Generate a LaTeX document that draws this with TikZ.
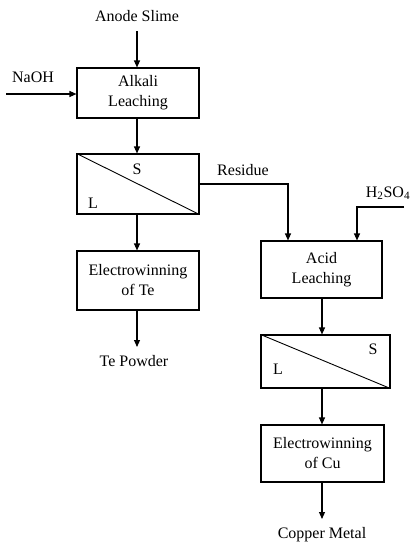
\documentclass[tikz,border=0pt]{standalone}
\usepackage{fontspec}
\setmainfont{Liberation Serif}
\usetikzlibrary{arrows.meta}
\begin{document}
\begin{tikzpicture}[x=1pt,y=-1pt,
  every node/.style={font=\fontsize{16}{20}\selectfont},
  procbox/.style={draw,line width=1.1pt,align=center,inner sep=0pt},
  lbl/.style={anchor=base,inner sep=0pt},
  flow/.style={line width=1.1pt,-{Triangle[length=7pt,width=6pt]}},
  pipe/.style={line width=1.1pt}]
\useasboundingbox (0,0) rectangle (420,550);
% boxes
\node[procbox,minimum width=122pt,minimum height=50pt] (alkali) at (138,93) {Alkali\\Leaching};
\node[procbox,minimum width=122pt,minimum height=60pt] (sep1) at (138,184) {};
\node[procbox,minimum width=122pt,minimum height=59pt] (elte) at (138,280.5) {Electrowinning\\of Te};
\node[procbox,minimum width=121pt,minimum height=57pt] (acid) at (321.5,269.5) {Acid\\Leaching};
\node[procbox,minimum width=129pt,minimum height=53pt] (sep2) at (325.5,361.5) {};
\node[procbox,minimum width=123pt,minimum height=57pt] (elcu) at (322.5,453.5) {Electrowinning\\of Cu};
\draw[line width=0.9pt] (sep1.north west) -- (sep1.south east);
\draw[line width=0.9pt] (sep2.north west) -- (sep2.south east);
% labels
\node[lbl] (anode) at (137,21) {Anode Slime};
\node[lbl] (naoh) at (33,82) {NaOH};
\node[lbl] (s1) at (137,174) {S};
\node[lbl] (l1) at (93,208) {L};
\node[lbl] (res) at (243,175) {Residue};
\node[lbl] (h2so4) at (388,197) {H\textsubscript{2}SO\textsubscript{4}};
\node[lbl] (s2) at (373,354) {S};
\node[lbl] (l2) at (278,374) {L};
\node[lbl] (tep) at (134,366) {Te Powder};
\node[lbl] (cum) at (322,538) {Copper Metal};
% coordinates
\coordinate (a0) at (137,31);
\coordinate (n0) at (6,94);
\coordinate (rx) at (288,0);
\coordinate (h0) at (404,207);
\coordinate (hx) at (357,0);
\coordinate (tepend) at (137,347);
\coordinate (cuend) at (322,519);
% connectors
\draw[flow] (a0) -- (a0 |- alkali.north);
\draw[flow] (n0) -- (n0 -| alkali.west);
\draw[flow] (alkali.south -| a0) -- (a0 |- sep1.north);
\draw[flow] (sep1.south -| a0) -- (a0 |- elte.north);
\draw[flow] (elte.south -| a0) -- (tepend);
\draw[flow] (sep1.east) -| (rx |- acid.north);
\draw[flow] (h0) -| (hx |- acid.north);
\draw[flow] (acid.south -| cuend) -- (cuend |- sep2.north);
\draw[flow] (sep2.south -| cuend) -- (cuend |- elcu.north);
\draw[flow] (elcu.south -| cuend) -- (cuend);
\end{tikzpicture}
\end{document}
